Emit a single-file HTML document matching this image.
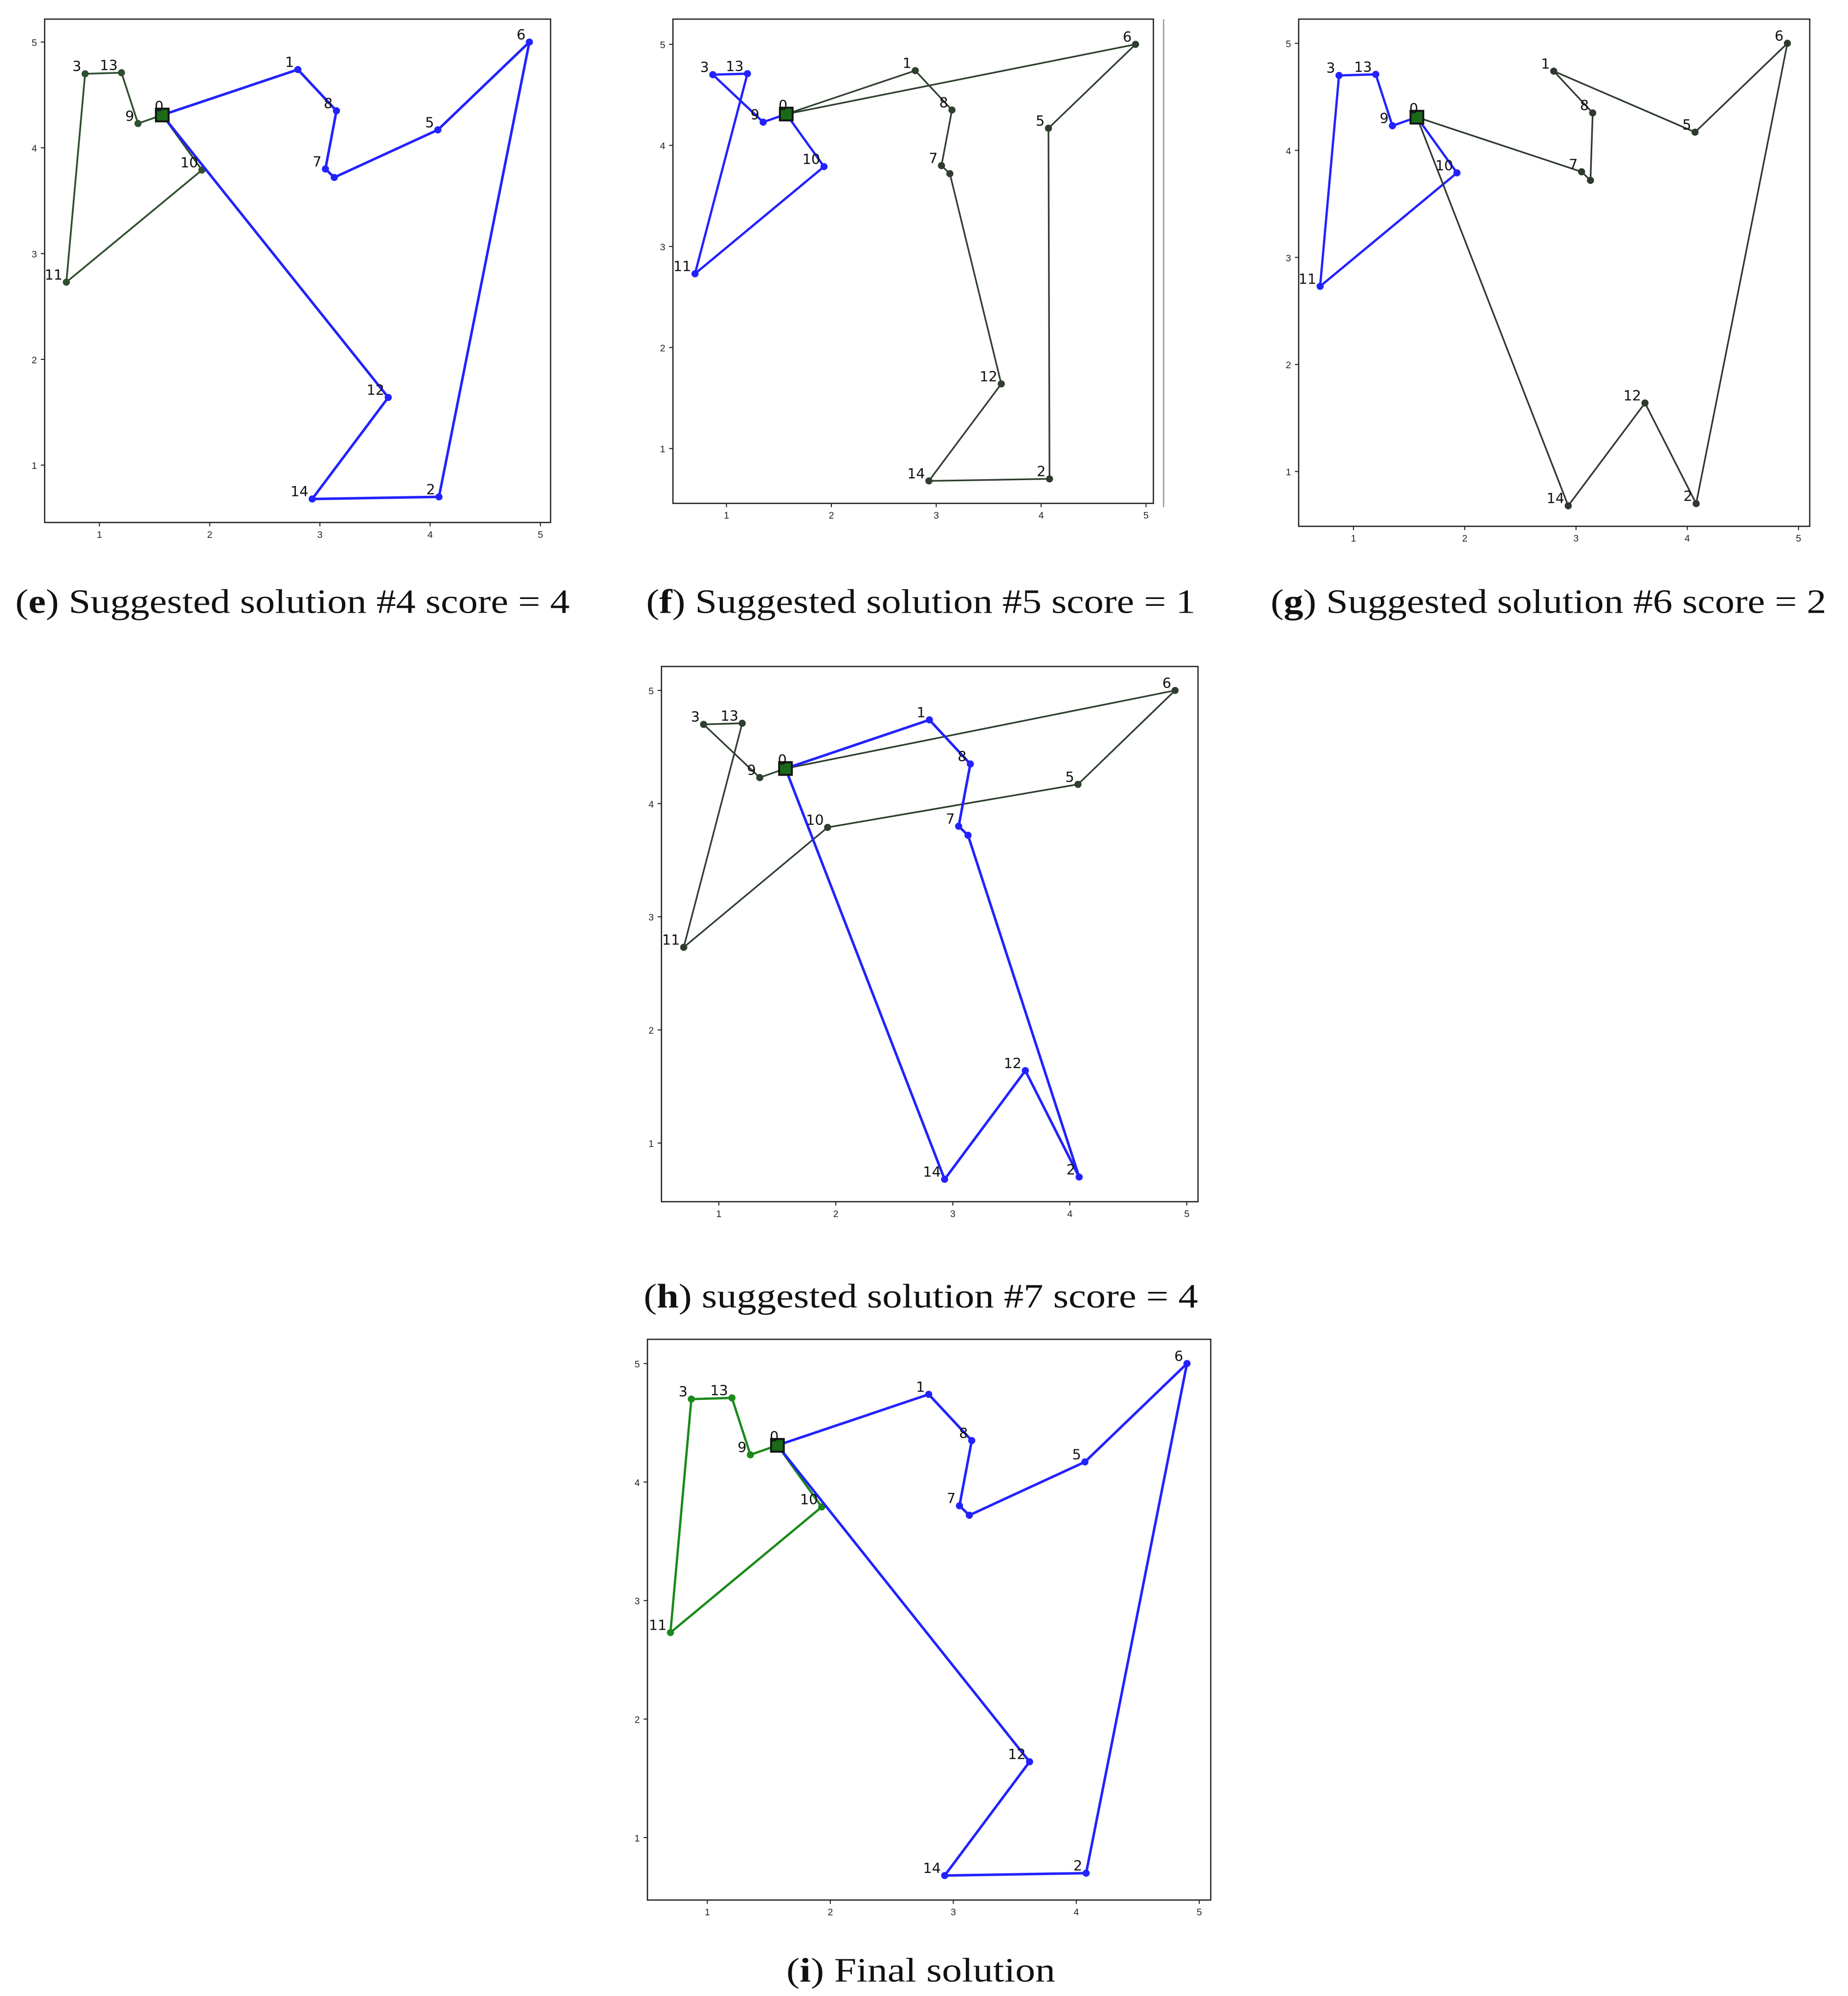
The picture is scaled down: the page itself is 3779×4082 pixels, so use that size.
<!DOCTYPE html>
<html><head><meta charset="utf-8">
<style>
html,body{margin:0;padding:0;background:#fff;}
svg{display:block;}
</style></head>
<body>
<svg id="fig" xmlns="http://www.w3.org/2000/svg" width="3779" height="4082" viewBox="0 0 1450 1566.3">
<rect width="1450" height="1566.3" fill="#fff"/>
</svg>
<script>
// node coordinates (data units)
const nodeIds = [0,1,2,3,4,5,6,7,8,9,10,11,12,13,14];
const nodeX = [1.57,2.80,4.08,0.87,3.13,4.07,4.90,3.05,3.15,1.35,1.93,0.70,3.62,1.20,2.93];
const nodeY = [4.31,4.74,0.70,4.70,3.72,4.17,5.00,3.80,4.35,4.23,3.79,2.73,1.64,4.71,0.68];
const tickVals = [1,2,3,4,5];
const tickLabels = ["1","2","3","4","5"];
// routes per panel
const routesE = [{c:"#2f4f2f",w:1.4,p:[0,10,11,3,13,9,0]},{c:"#2222ff",w:2,p:[0,1,8,7,4,5,6,2,14,12,0]}];
const routesF = [{c:"#2222ff",w:1.8,p:[0,9,3,13,11,10,0]},{c:"#2f3f2f",w:1.3,p:[0,1,8,7,4,12,14,2,5,6,0]}];
const routesG = [{c:"#2222ff",w:1.8,p:[0,10,11,3,13,9,0]},{c:"#2f3a2f",w:1.3,p:[0,7,4,8,1,5,6,2,12,14,0]}];
const routesH = [{c:"#2f3f2f",w:1.3,p:[0,6,5,10,11,13,3,9,0]},{c:"#2222ff",w:2,p:[0,1,8,7,4,2,12,14,0]}];
const routesI = [{c:"#1a8a1a",w:1.8,p:[0,10,11,3,13,9,0]},{c:"#2222ff",w:2,p:[0,1,8,7,4,5,6,2,14,12,0]}];

const panels = [
 {id:"e",box:[35,15,432,410],x1:78,xu:86.5,y1:365,yu:83,routes:routesE,cap:["e",") Suggested solution #4 score = 4"],cl:12,cw:435,cy:481},
 {id:"f",box:[528,15,905,395],x1:570,xu:82.3,y1:352,yu:79.3,routes:routesF,cap:["f",") Suggested solution #5 score = 1"],cl:507,cw:431,cy:481},
 {id:"g",box:[1019,15,1420,413],x1:1062,xu:87.3,y1:370,yu:84,routes:routesG,cap:["g",") Suggested solution #6 score = 2"],cl:997,cw:436,cy:481},
 {id:"h",box:[519,523,940,943],x1:564,xu:91.8,y1:897,yu:88.8,routes:routesH,cap:["h",") suggested solution #7 score = 4"],cl:505,cw:435,cy:1026},
 {id:"i",box:[508,1051,950,1491],x1:555,xu:96.5,y1:1442,yu:93,routes:routesI,cap:["i",") Final solution"],cl:617,cw:211,cy:1555}
];
const NS="http://www.w3.org/2000/svg";
const svg=document.getElementById('fig');
function mk(t,a,parent){const e=document.createElementNS(NS,t);for(const k in a)e.setAttribute(k,a[k]);(parent||svg).appendChild(e);return e;}
panels.forEach(P=>{
  const g=mk('g',{});
  
  
  const sx=v=>P.x1+(v-1)*P.xu, sy=v=>P.y1-(v-1)*P.yu;
  const [l,t,r,b]=P.box;
  const fr=mk('rect',{x:l,y:t,width:r-l,height:b-t,fill:"none",stroke:"#222",'stroke-width':1},g);
  
  
  tickVals.forEach((v,i)=>{
    mk('line',{x1:sx(v),x2:sx(v),y1:b,y2:b+3,stroke:"#222",'stroke-width':0.8},g);
    const tx=mk('text',{x:sx(v),y:b+12,'font-size':7.5,'text-anchor':'middle','font-family':'Liberation Sans, sans-serif',fill:'#222'},g);
    tx.textContent=tickLabels[i];
    
    
    mk('line',{x1:l-3,x2:l,y1:sy(v),y2:sy(v),stroke:"#222",'stroke-width':0.8},g);
    const ty=mk('text',{x:l-6,y:sy(v)+3,'font-size':7.5,'text-anchor':'end','font-family':'Liberation Sans, sans-serif',fill:'#222'},g);
    ty.textContent=tickLabels[i];
    
    
  });
  P.routes.forEach((R,ri)=>{
    const pts=R.p.map(n=>sx(nodeX[n])+','+sy(nodeY[n])).join(' ');
    const pl=mk('polyline',{points:pts,fill:'none',stroke:R.c,'stroke-width':R.w,'stroke-linejoin':'round'},g);
    
    
    R.p.forEach(n=>{ if(n===0) return;
      const c=mk('circle',{cx:sx(nodeX[n]),cy:sy(nodeY[n]),r:2.8,fill:R.c},g);
      
      
    });
  });
  const d=mk('rect',{x:sx(nodeX[0])-5,y:sy(nodeY[0])-5,width:10,height:10,fill:'#1a6a1a',stroke:'#111','stroke-width':1.5},g);
  
  
  nodeIds.forEach(n=>{ if(n===4) return;
    const lb=mk('text',{x:sx(nodeX[n])-3,y:sy(nodeY[n])-2,'font-size':11,'text-anchor':'end','font-family':'DejaVu Sans, sans-serif',fill:'#111'},g);
    if(n===0){lb.setAttribute('x',sx(nodeX[0])+1);lb.setAttribute('y',sy(nodeY[0])-3);}
    lb.textContent=String(n);
    
    
  });
  const cap=mk('text',{x:P.cl,y:P.cy,'font-size':27,'font-family':'Liberation Serif, serif',fill:'#111',textLength:P.cw,lengthAdjust:'spacingAndGlyphs'},g);
  
  
  const s1=mk('tspan',{},cap);s1.textContent='(';
  const s2=mk('tspan',{'font-weight':'bold'},cap);s2.textContent=P.cap[0];
  const s3=mk('tspan',{},cap);s3.textContent=P.cap[1];
});
const vl=mk('line',{x1:913,x2:913,y1:15,y2:398,stroke:'#999','stroke-width':1});


</script>
</body></html>
